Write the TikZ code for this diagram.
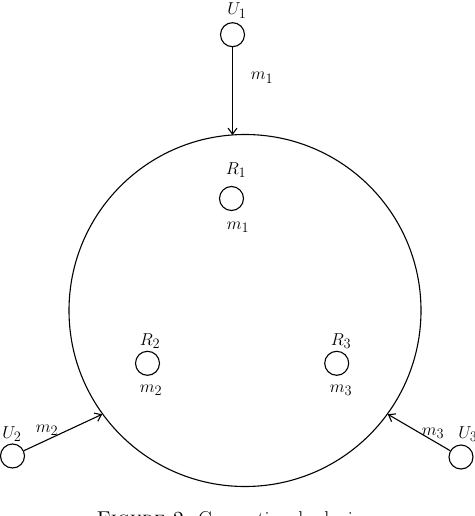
\documentclass[tikz,border=0pt]{standalone}
\usetikzlibrary{arrows.meta}
\begin{document}
\begin{tikzpicture}[x=1pt,y=-1pt,
  nd/.style={draw,circle,line width=1.1pt,minimum size=24pt,inner sep=0pt},
  lbl/.style={anchor=base,inner sep=0pt,font=\fontsize{19}{22}\selectfont},
  capt/.style={anchor=base,inner sep=0pt,font=\fontsize{20}{24}\selectfont},
  link/.style={line width=1.1pt,-{Straight Barb[length=6pt,width=9pt,line width=1.1pt]}}]
\useasboundingbox (0,0) rectangle (474,516);
\node[draw,circle,line width=1.1pt,minimum size=352pt,inner sep=0pt] (big) at (245,310.5) {};
\node[nd] (U1) at (232.5,34.7) {};
\node[nd] (R1) at (231.5,198.5) {};
\node[nd] (R2) at (147.5,363.3) {};
\node[nd] (R3) at (336.7,363.3) {};
\node[nd] (U2) at (12.5,456) {};
\node[nd] (U3) at (461,457) {};
\coordinate (t1) at (232.5,135);
\draw[link] (U1) -- (t1);
\draw[link] (U2) -- (big.216);
\draw[link] (U3) -- (big.324);
\node[lbl] (lU1) at (237,15) {$U_1$};
\node[lbl] (lm1a) at (262,80) {$m_1$};
\node[lbl] (lR1) at (236,174) {$R_1$};
\node[lbl] (lm1b) at (238,229) {$m_1$};
\node[lbl] (lR2) at (150,345) {$R_2$};
\node[lbl] (lm2b) at (151,392) {$m_2$};
\node[lbl] (lR3) at (341,345) {$R_3$};
\node[lbl] (lm3b) at (341,392) {$m_3$};
\node[lbl] (lU2) at (12,438) {$U_2$};
\node[lbl] (lm2a) at (47,432) {$m_2$};
\node[lbl] (lm3a) at (433,435) {$m_3$};
\node[lbl] (lU3) at (468,438) {$U_3$};
\begin{scope}
\clip (0,0) rectangle (474,516);
\node[capt] (cap) at (234.5,525) {\textsc{Figure 2:} Conventional relaying};
\end{scope}
\end{tikzpicture}
\end{document}
